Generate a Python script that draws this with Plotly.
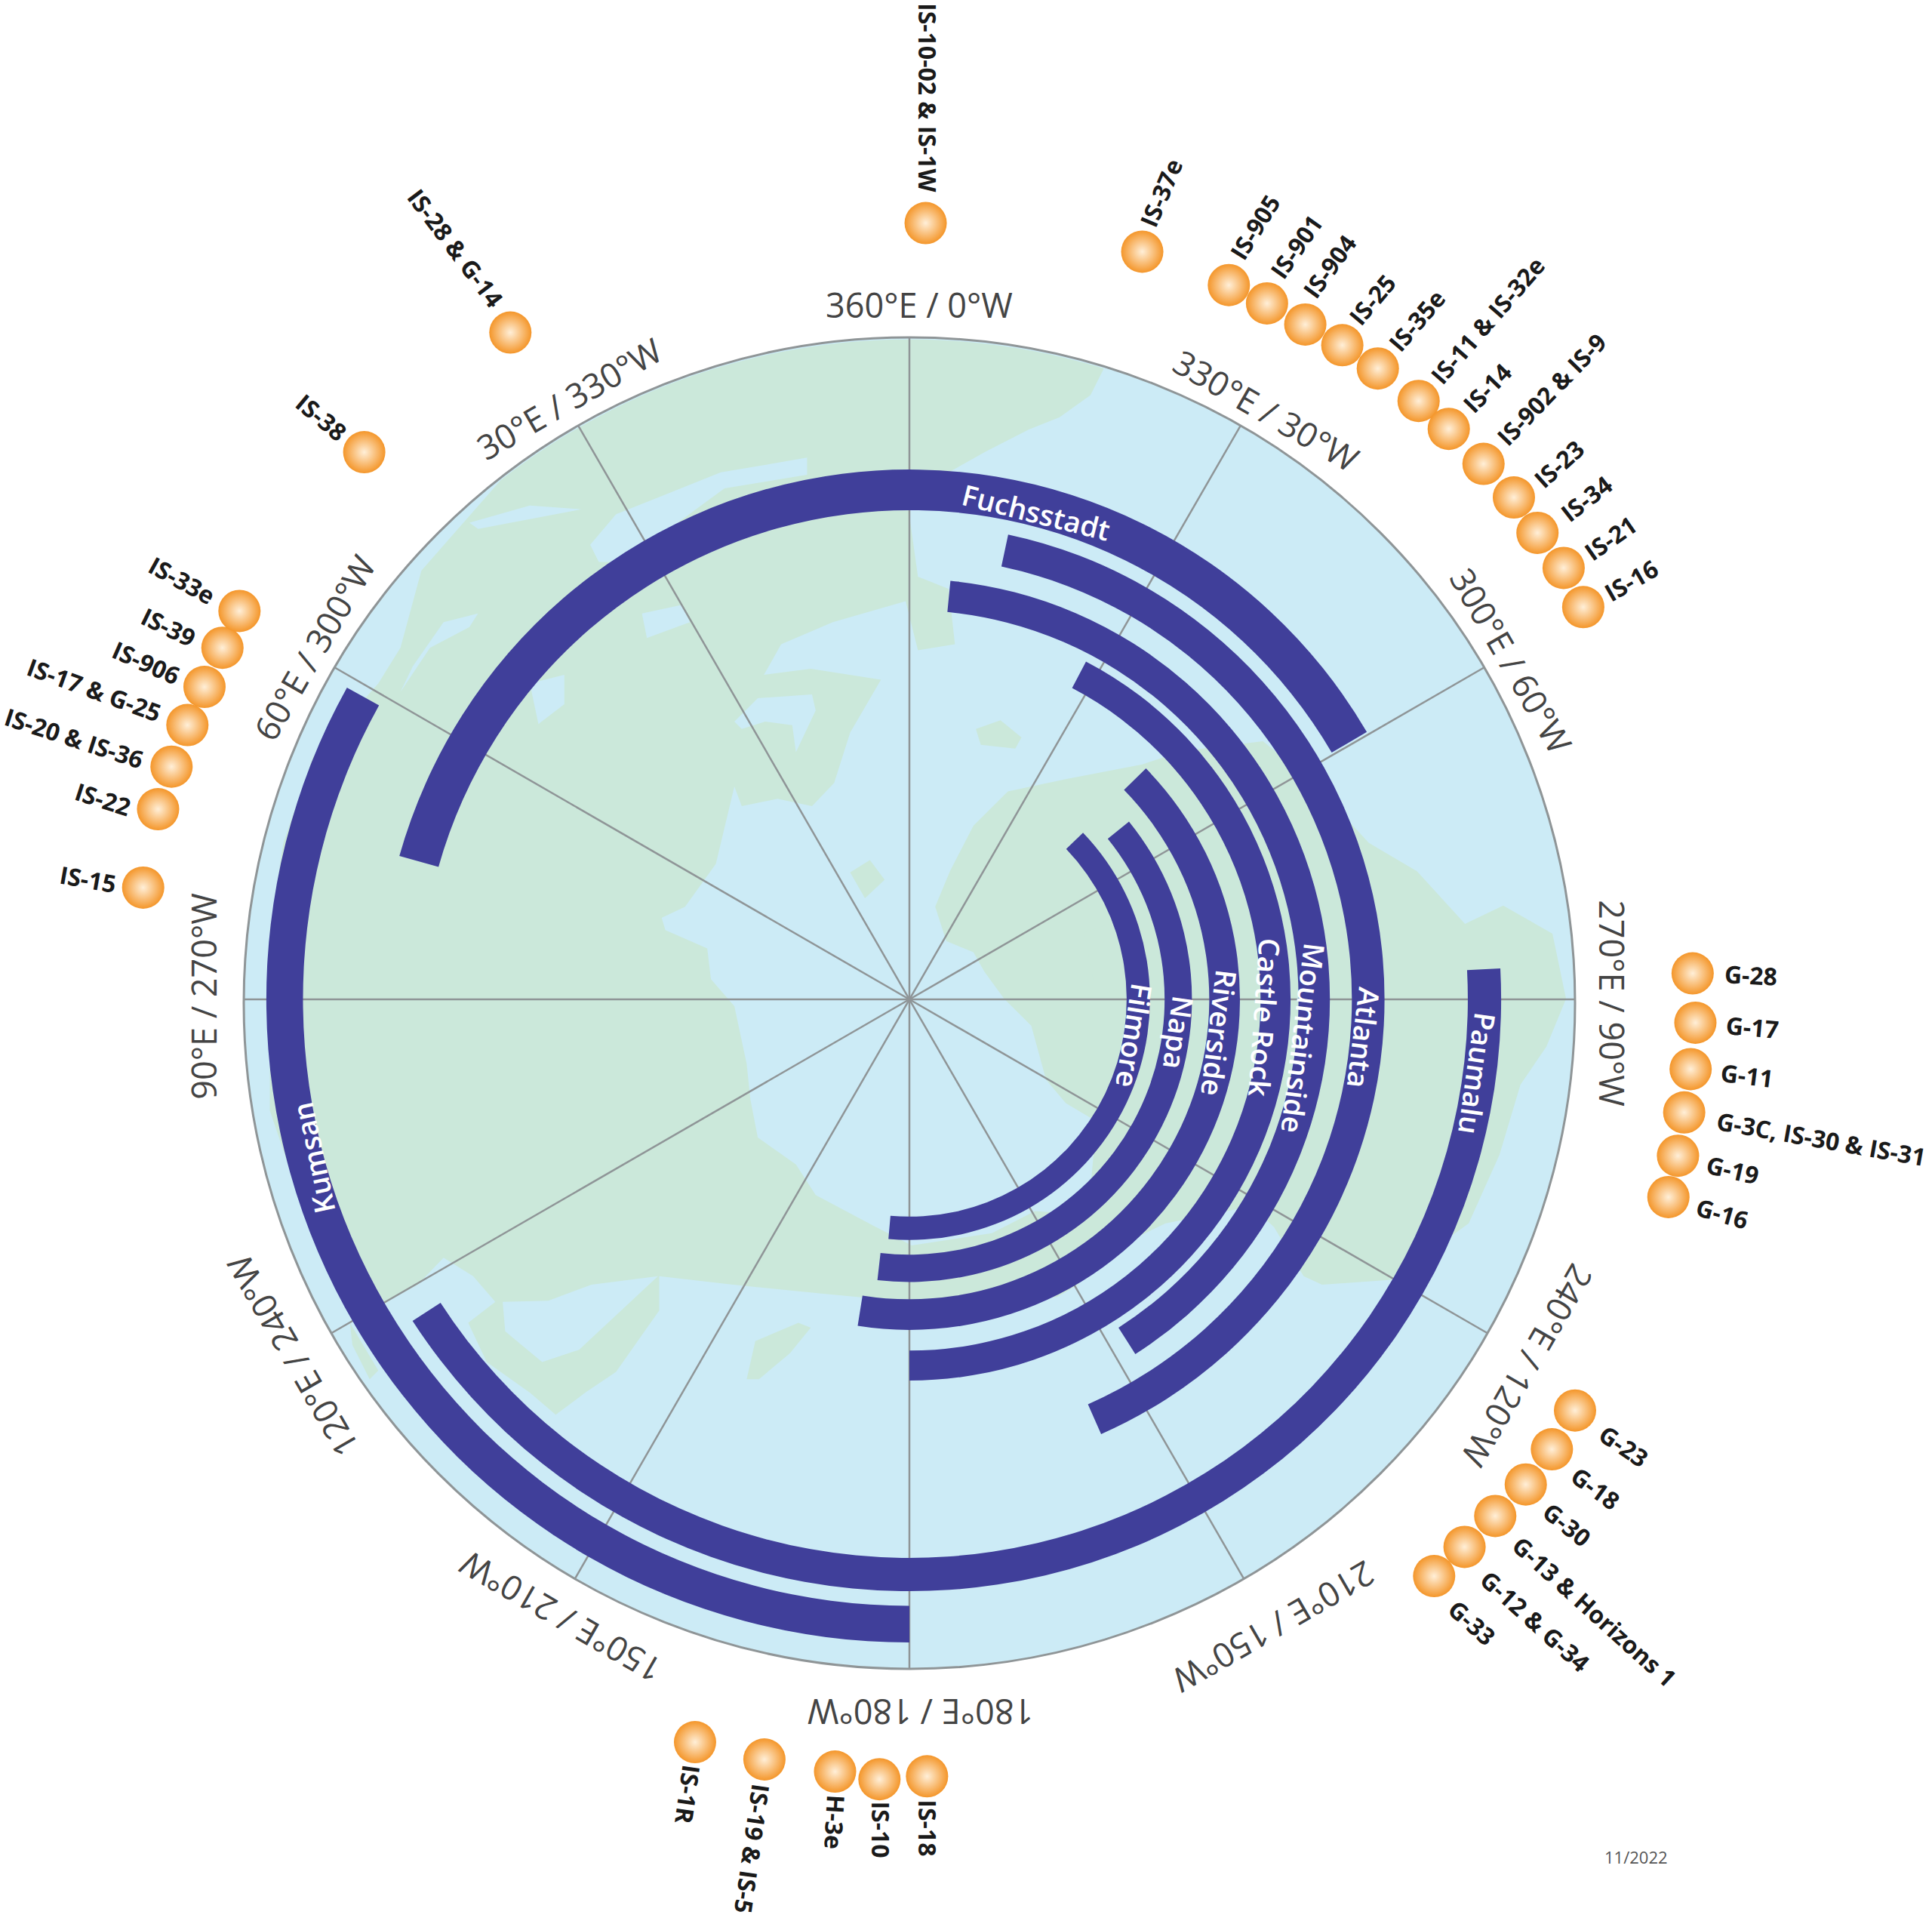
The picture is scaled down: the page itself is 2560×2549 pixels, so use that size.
import numpy as np
import plotly.graph_objects as go

# ---------- data ----------
beam_names = ["Kumsan", "Paumalu", "Fuchsstadt", "Atlanta", "Mountainside",
              "Castle Rock", "Riverside", "Napa", "Filmore"]
beam_start = [180.0, 87.0, 285.7, 12.0, 5.6, 27.6, 45.7, 51.0, 46.2]
beam_end = [299.0, 237.1, 419.7, 156.2, 147.5, 180.0, 189.0, 186.5, 185.0]
beam_inner = [0.910, 0.838, 0.734, 0.664, 0.584, 0.527, 0.450, 0.383, 0.326]
beam_outer = [0.965, 0.888, 0.795, 0.713, 0.631, 0.572, 0.496, 0.424, 0.361]

sat_names = ["IS-10-02 & IS-1W", "IS-37e", "IS-905", "IS-901", "IS-904", "IS-25", "IS-35e",
             "IS-11 & IS-32e", "IS-14", "IS-902 & IS-9", "IS-23", "IS-34", "IS-21", "IS-16",
             "G-28", "G-17", "G-11", "G-3C, IS-30 & IS-31", "G-19", "G-16",
             "G-23", "G-18", "G-30", "G-13 & Horizons 1", "G-12 & G-34", "G-33",
             "IS-18", "IS-10", "H-3e", "IS-19 & IS-5", "IS-1R",
             "IS-15", "IS-22", "IS-20 & IS-36", "IS-17 & G-25", "IS-906", "IS-39", "IS-33e",
             "IS-38", "IS-28 & G-14"]
sat_lon_w = [1.2, 17.3, 24.1, 27.2, 30.4, 33.5, 36.6, 40.4, 43.4, 47.0, 50.3, 53.4, 56.6, 59.8,
             88.1, 91.7, 95.1, 98.3, 101.5, 104.6,
             121.7, 125.0, 128.2, 131.4, 134.6, 137.7,
             178.7, 182.2, 185.5, 190.8, 196.1,
             278.3, 284.2, 287.5, 290.8, 293.9, 297.1, 300.1, 315.1, 329.1]
sat_orbit = [1.165, 1.175, 1.174, 1.174, 1.174, 1.177, 1.179, 1.179, 1.178, 1.178, 1.179, 1.174, 1.176, 1.170,
             1.176, 1.180, 1.177, 1.175, 1.177, 1.177,
             1.174, 1.177, 1.177, 1.172, 1.170, 1.170,
             1.166, 1.171, 1.164, 1.161, 1.160,
             1.162, 1.163, 1.161, 1.159, 1.157, 1.158, 1.162, 1.159, 1.166]

meridians = [0, 30, 60, 90, 120, 150, 180, 210, 240, 270, 300, 330]
meridian_labels = ["360°E / 0°W", "330°E / 30°W", "300°E / 60°W", "270°E / 90°W",
                   "240°E / 120°W", "210°E / 150°W", "180°E / 180°W", "150°E / 210°W",
                   "120°E / 240°W", "90°E / 270°W", "60°E / 300°W", "30°E / 330°W"]

# map outlines
land_main = [(896,300),(885,322),(860,340),(835,350),(800,368),(770,385),(740,395),(738,420),(745,470),
             (770,480),(775,525),(745,530),(735,490),(676,507),(634,525),(620,550),(658,545),(715,554),
             (690,597),(677,638),(659,657),(631,651),(602,657),(596,641),(581,704),(556,739),(537,748),
             (540,758),(574,773),(577,798),(596,820),(606,867),(609,896),(615,927),(646,949),(662,974),
             (709,999),(740,1015),(805,1005),(840,987),(883,990),(890,914),(865,899),(849,880),(837,836),
             (815,814),(799,792),(790,776),(768,767),(759,739),(771,710),(790,673),(818,645),(865,635),
             (927,623),(960,612),(1025,604),(1064,636),(1111,687),(1150,710),(1189,753),(1220,738),(1260,761),
             (1271,814),(1255,853),(1234,884),(1217,941),(1192,997),(1129,1043),(1073,1047),(1058,1040),
             (1034,1000),(1016,983),(946,997),(886,1026),(875,1047),(858,1057),(805,1061),(738,1061),
             (665,1054),(595,1047),(535,1040),(535,1068),(500,1118),(475,1135),(451,1153),(430,1135),
             (395,1110),(380,1078),(402,1061),(384,1040),(360,1025),(339,1047),(310,1063),(265,1020),
             (243,976),(219,905),(219,835),(219,758),(230,687),(254,617),(307,557),(325,528),(342,465)]
land_rim_from, land_rim_to = 322.0, 376.5   # °W span where the main land reaches the rim
land_islands = [[(606,1124),(613,1093),(648,1078),(658,1082),(641,1103),(616,1124)],
                [(792,594),(812,587),(829,601),(824,610),(796,607)],
                [(690,711),(706,701),(718,717),(702,732)],
                [(284,1078),(307,1117),(300,1124),(286,1096)],
                [(880,760),(925,745),(925,800),(890,812)]]
sea_inlets = [[(479,444),(500,419),(535,405),(585,385),(655,373),(655,387),(588,398),(535,437),(507,458),(486,458)],
              [(381,426),(430,412),(472,415),(430,423),(388,431)],
              [(335,543),(360,507),(388,500),(381,511),(349,528),(325,564)],
              [(430,557),(458,550),(458,574),(437,590)],
              [(521,500),(553,493),(560,507),(525,520)],
              [(596,588),(615,569),(659,566),(662,579),(646,613),(643,591),(621,588),(602,594)],
              [(408,1061),(445,1060),(480,1047),(534,1040),(470,1100),(440,1110),(410,1085)]]

# ---------- colours and fonts ----------
OCEAN, LAND, GRID, BEAM = "#CCEBF6", "#CBE8DA", "#8F9597", "#403F9A"
SANS = "Open Sans"
W, H = 2560, 2549
CX, CY, R = 1205.0, 1324.0, 883.0   # centre of the beams, spokes and orbit ring
DISC_CY, DISC_R = 1329.0, 882.0     # the globe disc sits slightly lower than the spoke crossing


def to_polar(pts):
    p = np.array(pts, float)
    dx = p[:, 0] * W / 1568 - CX
    dy = DISC_CY - p[:, 1] * H / 1568
    return np.minimum(np.hypot(dx, dy) / DISC_R, 0.997), np.degrees(np.arctan2(dx, dy)) % 360


def spoke_length(m):
    # distance from the spoke crossing to the rim of the disc along longitude m
    t = np.radians(m)
    d = DISC_CY - CY
    return (np.sqrt(DISC_R ** 2 - (d * np.sin(t)) ** 2) - d * np.cos(t)) / R


fig = go.Figure()
# lowest subplot: the globe
fig.add_trace(go.Barpolar(r=[1], theta=[180], width=[360], base=0, subplot="polar",
                          marker=dict(color=OCEAN, line=dict(color=GRID, width=3)), hoverinfo="skip"))
main_r, main_t = to_polar(land_main)
rim_t = np.linspace(land_rim_from, land_rim_to, 40)
main_r = np.concatenate([main_r, np.full(rim_t.size, 0.997), main_r[:1]])
main_t = np.concatenate([main_t, rim_t % 360, main_t[:1]])
fig.add_trace(go.Scatterpolar(r=main_r, theta=main_t, mode="lines", fill="toself", fillcolor=LAND,
                              line=dict(width=0), subplot="polar", hoverinfo="skip"))
for poly in land_islands:
    r, t = to_polar(poly)
    fig.add_trace(go.Scatterpolar(r=np.append(r, r[0]), theta=np.append(t, t[0]), mode="lines", fill="toself",
                                  fillcolor=LAND, line=dict(width=0), subplot="polar", hoverinfo="skip"))
for poly in sea_inlets:
    r, t = to_polar(poly)
    fig.add_trace(go.Scatterpolar(r=np.append(r, r[0]), theta=np.append(t, t[0]), mode="lines", fill="toself",
                                  fillcolor=OCEAN, line=dict(width=0), subplot="polar", hoverinfo="skip"))
# middle subplot: spokes
for m in meridians:
    fig.add_trace(go.Scatterpolar(r=[0, spoke_length(m)], theta=[m, m], mode="lines",
                                  line=dict(color=GRID, width=2.5), subplot="polar2", hoverinfo="skip"))

# top subplot: beams and satellites
fig.add_trace(go.Barpolar(
    r=[o - i for o, i in zip(beam_outer, beam_inner)],
    base=beam_inner,
    theta=[(s + e) / 2 for s, e in zip(beam_start, beam_end)],
    width=[e - s for s, e in zip(beam_start, beam_end)],
    text=beam_names, marker=dict(color=BEAM, line=dict(width=0)), subplot="polar3"))
fig.add_trace(go.Scatterpolar(
    r=sat_orbit, theta=sat_lon_w, mode="markers", text=sat_names, subplot="polar3",
    marker=dict(size=56, color="#F4962A", line=dict(width=0),
                gradient=dict(type="radial", color="#FFEFD8"))))

# text placed on a 1568-unit grid of the page
sat_label_pos = [(753.4,79.4,90),(942,157,-67),(1018.5,185,-58),(1052,201,-55),(1079,217,-54),(1113.5,243.6,-50),(1149.6,261,-49.5),
                 (1207,261,-49),(1207,316,-46),(1259,317,-46),(1265,378,-42),(1287,406,-38),(1307,438,-35),(1324,473,-30),
                 (1421,794.6,3),(1422,836.7,5),(1418,876,7),(1478,928,10),(1406,953,13),(1398,989,16),
                 (1318,1178,34),(1295,1213,36),(1272,1242,39),(1294,1313,42),(1246,1321,42),(1195,1322,42),
                 (753.4,1489.5,90),(714.8,1490.8,90),(678,1485,93),(610.5,1507,98),(558.5,1463,98),
                 (71.6,716.6,10),(83.8,651,18),(60.3,601,18),(76.6,562,20),(118.5,540,24),(137,510.7,26),(147.6,473,29),
                 (261,339.6,40),(370,202,53)]
meridian_pos = [(746,248.5,0),(1028,334.5,30),(1227,538.4,60),(1309,817.7,90),(1240,1113,120),(1034,1326,150),
                (747,1395,180),(455,1318,210),(237,1105,240),(165,811.6,270),(255,527.4,300),(462,324.5,330)]
beam_label_pos = [(254,943.7,-102),(1199,875,98),(841,417,14),(1107,846,97),(1058,846,97),
                  (1027,829,94),(990,842,97),(957,842,98),(921,844,99)]


def note(text, pos, size, color, weight=400):
    x, y, a = pos
    fig.add_annotation(text=text, x=x / 1568, y=1 - y / 1568, xref="paper", yref="paper", showarrow=False,
                       textangle=a, xanchor="center", yanchor="middle",
                       font=dict(family=SANS, size=size, color=color, weight=weight))


for t, p in zip(sat_names, sat_label_pos):
    note(t, p, 32, "#1A1A1A", 700)
for t, p in zip(meridian_labels, meridian_pos):
    note(t, p, 45, "#444444")
for t, p in zip(beam_names, beam_label_pos):
    note(t, p, 38, "#FFFFFF", 600)
note("11/2022", (1328, 1513, 0), 22, "#555555")


def polar_layout(cy, radius):
    return dict(domain=dict(x=[0, 2 * CX / W], y=[0, 2 * (H - cy) / H]), bgcolor="rgba(0,0,0,0)",
                radialaxis=dict(visible=False, range=[0, CX / radius]),
                angularaxis=dict(visible=False, direction="clockwise", rotation=90))


fig.update_layout(width=W, height=H, margin=dict(l=0, r=0, t=0, b=0), showlegend=False,
                  paper_bgcolor="white",
                  polar=polar_layout(DISC_CY, DISC_R),
                  polar2=polar_layout(CY, R),
                  polar3=polar_layout(CY, R))
fig.write_html("out.html", config={"displayModeBar": False},
               post_script="document.body.style.margin='0';")
